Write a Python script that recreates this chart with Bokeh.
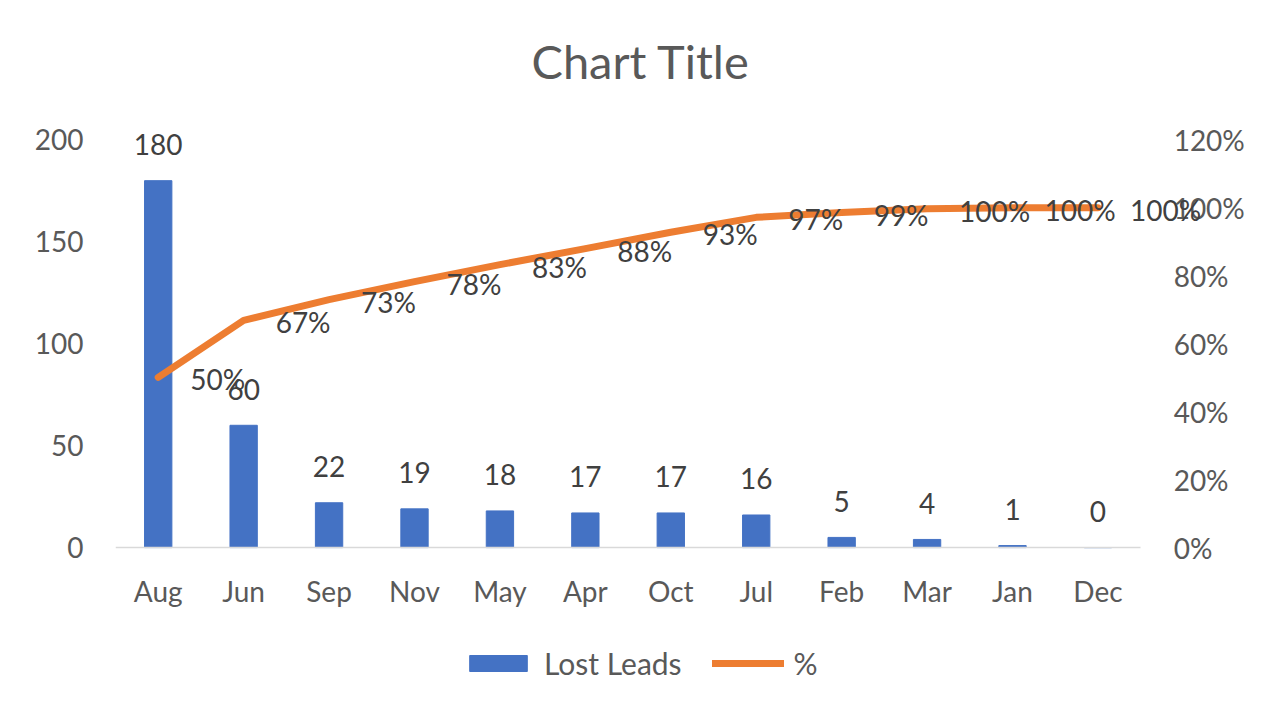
from bokeh.core.properties import value
from bokeh.embed import file_html
from bokeh.models import (
    ColumnDataSource,
    FixedTicker,
    LabelSet,
    Legend,
    LegendItem,
    LinearAxis,
    NumeralTickFormatter,
    Range1d,
)
from bokeh.plotting import figure
from bokeh.resources import INLINE

months = ["Aug", "Jun", "Sep", "Nov", "May", "Apr", "Oct", "Jul", "Feb", "Mar", "Jan", "Dec"]
lost_leads = [180, 60, 22, 19, 18, 17, 17, 16, 5, 4, 1, 0]
cum_pct = [0.501, 0.669, 0.730, 0.783, 0.833, 0.880, 0.928, 0.972, 0.986, 0.997, 1.0, 1.0]
left_ticks = [0, 50, 100, 150, 200]
right_ticks = [0, 0.2, 0.4, 0.6, 0.8, 1.0, 1.2]

FONT = "Lato"
GREY = "#595959"
DARK = "#404040"
FS = "28px"

pos = list(range(len(months)))  # slot index of each month on the x axis
src = ColumnDataSource(data=dict(
    x=pos, month=months, leads=lost_leads, pct=cum_pct,
    leads_txt=[str(v) for v in lost_leads],
    pct_txt=["%d%%" % round(v * 100) for v in cum_pct],
))

# frame is larger than the plotting area so that labels and legend are not clipped;
# the axes are pinned with fixed_location/bounds
p = figure(x_range=Range1d(-0.5, 13.02), y_range=Range1d(-75, 210),
           frame_width=1155, frame_height=581, output_backend="svg", toolbar_location=None,
           min_border_left=115, min_border_right=10, min_border_top=119, min_border_bottom=20,
           x_axis_type=None)
p.extra_y_ranges = {"pct": Range1d(-0.45, 1.26)}

p.title.text = "Chart Title"
p.title.text_font = FONT
p.title.text_font_size = "47px"
p.title.text_font_style = "normal"
p.title.text_color = GREY
p.title.align = "left"
p.title.offset = 416
p.title.standoff = 61

p.outline_line_color = None
p.ygrid.grid_line_color = None

bars = p.vbar(x="x", top="leads", width=0.32, color="#4472C4", source=src)
line = p.line(x="x", y="pct", y_range_name="pct", source=src, line_width=7,
              color="#ED7D31", line_join="round", line_cap="round")

# axes
xax = LinearAxis(ticker=FixedTicker(ticks=pos), fixed_location=0, bounds=(-0.5, 11.5),
                 major_label_overrides={i: m for i, m in zip(pos, months)})
xax.axis_line_color = "#D9D9D9"
xax.axis_line_width = 1.5
xax.major_label_standoff = 20
p.add_layout(xax, "below")

p.yaxis.ticker = FixedTicker(ticks=left_ticks)
p.yaxis.axis_line_color = None
p.yaxis.major_label_standoff = 26

rax = LinearAxis(y_range_name="pct", ticker=FixedTicker(ticks=right_ticks),
                 formatter=NumeralTickFormatter(format="0%"), fixed_location=11.5)
rax.axis_line_color = None
rax.major_label_standoff = 27
p.add_layout(rax, "right")

for ax in [xax, p.yaxis[0], rax]:
    ax.major_label_text_font = FONT
    ax.major_label_text_font_size = FS
    ax.major_label_text_color = GREY
    ax.major_tick_line_color = None
    ax.minor_tick_line_color = None

# data labels
p.add_layout(LabelSet(x="x", y="leads", text="leads_txt", source=src, y_offset=36,
                      text_align="center", text_baseline="middle", text_font=value(FONT),
                      text_font_size=FS, text_color=DARK))
p.add_layout(LabelSet(x="x", y="pct", text="pct_txt", source=src, y_range_name="pct",
                      x_offset=32, y_offset=-2, text_align="left", text_baseline="middle",
                      text_font=value(FONT), text_font_size=FS, text_color=DARK))

legend = Legend(items=[LegendItem(label="Lost Leads", renderers=[bars]),
                       LegendItem(label="%", renderers=[line])],
                orientation="horizontal", location=(347, 19), glyph_width=72, glyph_height=20,
                label_text_font=FONT, label_text_font_size="30px", label_text_color=GREY,
                spacing=30, label_standoff=10, border_line_color=None,
                background_fill_alpha=0, margin=0, padding=5)
p.add_layout(legend, "center")

open("out.html", "w").write(file_html(p, INLINE))
